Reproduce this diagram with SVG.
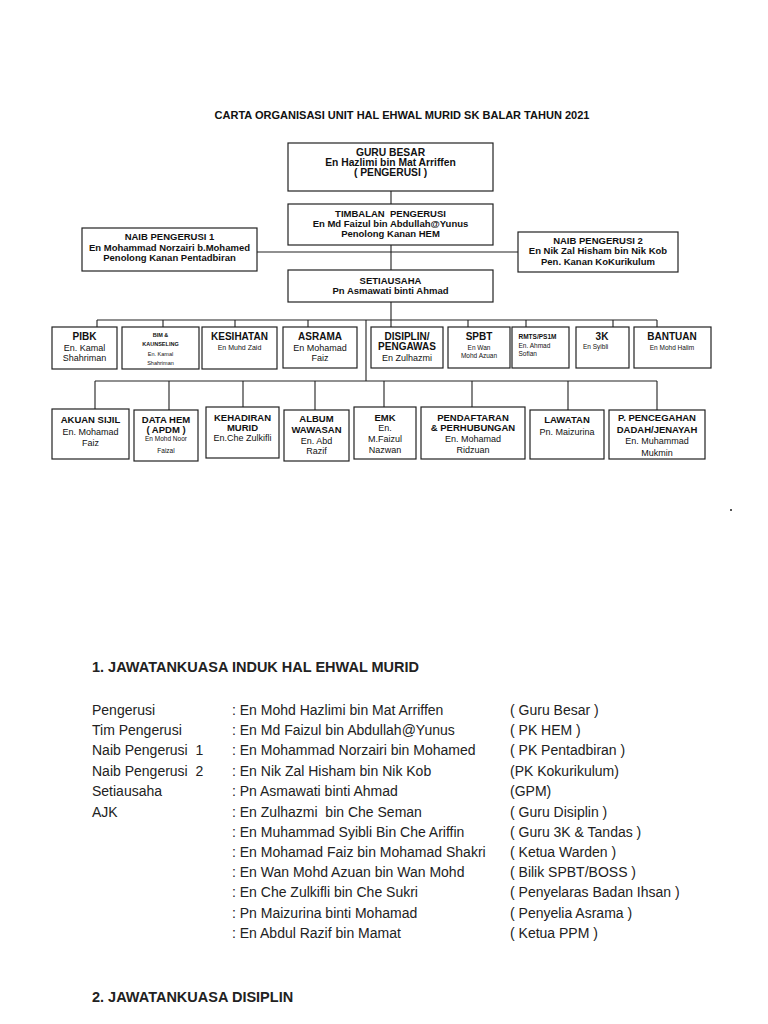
<svg xmlns="http://www.w3.org/2000/svg" width="768" height="1024" viewBox="0 0 768 1024">
<style>
text{font-family:"Liberation Sans",Arial,sans-serif;fill:#111}
.b{font-weight:bold}
.c{text-anchor:middle}
.box{fill:#fff;stroke:#222;stroke-width:1.2}
.ln{stroke:#222;stroke-width:1.1;fill:none}
.t{font-size:10px}
.h{font-size:9.5px;font-weight:bold}
.n{font-size:9px}
.s{font-size:6.5px}
.xs{font-size:5.5px}
.list{font-size:14px;fill:#222}
.pre{white-space:pre}
</style>
<rect width="768" height="1024" fill="#fff"/>
<text class="b c" x="402" y="118.5" style="font-size:10.8px" textLength="375" lengthAdjust="spacingAndGlyphs">CARTA ORGANISASI UNIT HAL EHWAL MURID SK BALAR TAHUN 2021</text>

<g id="connectors">
<path class="ln" d="M391 191V204M391 245V270M257 252H518M391 302V320M97 320H657M97 320V327M163 320V327M235 320V327M308 320V327M391 320V327M468 320V327M526 320V327M613 320V327M657 320V327M366 320V381M95 381H657M95 381V409M169 381V410M243 381V407M315 381V410M384 381V407M472 381V407M568 381V410M657 381V410"/>
</g>

<g id="guru-besar"><rect class="box" x="288" y="143" width="205" height="48"/>
<text class="h c" style="font-size:10.3px" x="390.5" y="155.5">GURU BESAR</text><text class="h c" style="font-size:10.3px" x="390.5" y="165.5">En Hazlimi bin Mat Arriffen</text><text class="h c" style="font-size:10.3px" x="390.5" y="175.5">( PENGERUSI )</text></g>

<g id="timbalan"><rect class="box" x="288" y="204" width="205" height="41"/>
<text class="h c pre" x="390.5" y="216.5">TIMBALAN  PENGERUSI</text><text class="h c" x="390.5" y="226.5">En Md Faizul bin Abdullah@Yunus</text><text class="h c" x="390.5" y="236.5">Penolong Kanan HEM</text></g>

<g id="naib1"><rect class="box" x="82" y="228" width="175" height="43"/>
<text class="h c" x="169.5" y="240">NAIB PENGERUSI 1</text><text class="h c" x="169.5" y="250.5">En Mohammad Norzairi b.Mohamed</text><text class="h c" x="169.5" y="261">Penolong Kanan Pentadbiran</text></g>

<g id="naib2"><rect class="box" x="518" y="232" width="160" height="40"/>
<text class="h c" x="598" y="243.5">NAIB PENGERUSI 2</text><text class="h c" x="598" y="254">En Nik Zal Hisham bin Nik Kob</text><text class="h c" x="598" y="264.5">Pen. Kanan KoKurikulum</text></g>

<g id="setiausaha"><rect class="box" x="288" y="270" width="205" height="32"/>
<text class="h c" x="390.5" y="283.5">SETIAUSAHA</text><text class="h c" x="390.5" y="293.5">Pn Asmawati binti Ahmad</text></g>

<g id="pibk"><rect class="box" x="52" y="327" width="65" height="42"/>
<text class="t b c" x="84.5" y="340">PIBK</text><text class="n c" x="84.5" y="350.5">En. Kamal</text><text class="n c" x="84.5" y="361">Shahriman</text></g>
<g id="bim"><rect class="box" x="122" y="327" width="77" height="42"/>
<text class="xs b c" x="160.5" y="337">BIM &amp;</text><text class="xs b c" x="160.5" y="346">KAUNSELING</text><text class="xs c" x="160.5" y="355.5">En. Kamal</text><text class="xs c" x="160.5" y="364.5">Shahriman</text></g>
<g id="kesihatan"><rect class="box" x="202" y="327" width="75" height="42"/>
<text class="t b c" x="239.5" y="340">KESIHATAN</text><text class="c" style="font-size:7px" x="239.5" y="350">En Muhd Zaid</text></g>
<g id="asrama"><rect class="box" x="283" y="327" width="74" height="41"/>
<text class="t b c" x="320" y="340">ASRAMA</text><text class="n c" x="320" y="351">En Mohamad</text><text class="n c" x="320" y="361">Faiz</text></g>
<g id="disiplin"><rect class="box" x="371" y="327" width="72" height="41"/>
<text class="t b c" x="407" y="340">DISIPLIN/</text><text class="t b c" x="407" y="350">PENGAWAS</text><text class="n c" x="407" y="360.5">En Zulhazmi</text></g>
<g id="spbt"><rect class="box" x="448" y="327" width="62" height="41"/>
<text class="t b c" x="479" y="340">SPBT</text><text class="s c" x="479" y="349.5">En Wan</text><text class="s c" x="479" y="357.5">Mohd Azuan</text></g>
<g id="rmts"><rect class="box" x="512" y="327" width="57" height="41"/>
<text class="s b" x="518.5" y="338.5">RMTS/PS1M</text><text class="s" x="518.5" y="347.5">En. Ahmad</text><text class="s" x="518.5" y="355.5">Sofian</text></g>
<g id="tigak"><rect class="box" x="576" y="327" width="53" height="41"/>
<text class="t b c" x="602" y="340">3K</text><text class="s" x="583" y="349">En Syibli</text></g>
<g id="bantuan"><rect class="box" x="634" y="327" width="77" height="41"/>
<text class="t b c" x="672" y="340">BANTUAN</text><text class="s c" x="672" y="349.5">En Mohd Halim</text></g>

<g id="akuan"><rect class="box" x="52" y="409" width="77" height="50"/>
<text class="h c" x="90.5" y="422.5">AKUAN SIJIL</text><text class="n c" x="90.5" y="434.5">En. Mohamad</text><text class="n c" x="90.5" y="445.5">Faiz</text></g>
<g id="datahem"><rect class="box" x="134" y="410" width="64" height="51"/>
<text class="h c" x="166" y="422.5">DATA HEM</text><text class="h c" x="166" y="432.5">( APDM )</text><text class="s c" x="166" y="440.5">En Mohd Noor</text><text class="s c" x="166" y="452.5">Faizal</text></g>
<g id="kehadiran"><rect class="box" x="206" y="407" width="73" height="51"/>
<text class="h c" x="242.5" y="420.5">KEHADIRAN</text><text class="h c" x="242.5" y="430.5">MURID</text><text class="n c" x="242.5" y="440.5">En.Che Zulkifli</text></g>
<g id="album"><rect class="box" x="284" y="410" width="65" height="51"/>
<text class="h c" x="316.5" y="421.5">ALBUM</text><text class="h c" x="316.5" y="432.5">WAWASAN</text><text class="n c" x="316.5" y="444">En. Abd</text><text class="n c" x="316.5" y="453.5">Razif</text></g>
<g id="emk"><rect class="box" x="354" y="407" width="62" height="52"/>
<text class="h c" x="385" y="420.5">EMK</text><text class="n c" x="385" y="430.5">En.</text><text class="n c" x="385" y="441.5">M.Faizul</text><text class="n c" x="385" y="452.5">Nazwan</text></g>
<g id="pendaftaran"><rect class="box" x="421" y="407" width="104" height="52"/>
<text class="h c" x="473" y="420.5">PENDAFTARAN</text><text class="h c" x="473" y="430.5">&amp; PERHUBUNGAN</text><text class="n c" x="473" y="441.5">En. Mohamad</text><text class="n c" x="473" y="452.5">Ridzuan</text></g>
<g id="lawatan"><rect class="box" x="530" y="410" width="74" height="49"/>
<text class="h c" x="567" y="422.5">LAWATAN</text><text class="n c" x="567" y="434.5">Pn. Maizurina</text></g>
<g id="pencegahan"><rect class="box" x="609" y="410" width="96" height="49"/>
<text class="h c" x="657" y="420.5">P. PENCEGAHAN</text><text class="h c" x="657" y="432.5">DADAH/JENAYAH</text><text class="n c" x="657" y="443.5">En. Muhammad</text><text class="n c" x="657" y="455.5">Mukmin</text></g>

<rect x="730" y="509" width="2" height="2" fill="#555"/>

<text class="b" x="92" y="672" style="font-size:14.5px;fill:#222">1. JAWATANKUASA INDUK HAL EHWAL MURID</text>
<g class="list">
<text class="list pre" x="92" y="715">Pengerusi</text><text class="list" x="232" y="715">: En Mohd Hazlimi bin Mat Arriffen</text><text class="list" x="510" y="715">( Guru Besar )</text>
<text class="list pre" x="92" y="735">Tim Pengerusi</text><text class="list" x="232" y="735">: En Md Faizul bin Abdullah@Yunus</text><text class="list" x="510" y="735">( PK HEM )</text>
<text class="list pre" x="92" y="755">Naib Pengerusi  1</text><text class="list" x="232" y="755">: En Mohammad Norzairi bin Mohamed</text><text class="list" x="510" y="755">( PK Pentadbiran )</text>
<text class="list pre" x="92" y="776">Naib Pengerusi  2</text><text class="list" x="232" y="776">: En Nik Zal Hisham bin Nik Kob</text><text class="list" x="510" y="776">(PK Kokurikulum)</text>
<text class="list" x="92" y="796">Setiausaha</text><text class="list" x="232" y="796">: Pn Asmawati binti Ahmad</text><text class="list" x="510" y="796">(GPM)</text>
<text class="list" x="92" y="817">AJK</text><text class="list pre" x="232" y="817">: En Zulhazmi  bin Che Seman</text><text class="list" x="510" y="817">( Guru Disiplin )</text>
<text class="list" x="232" y="837">: En Muhammad Syibli Bin Che Ariffin</text><text class="list" x="510" y="837">( Guru 3K &amp; Tandas )</text>
<text class="list" x="232" y="857">: En Mohamad Faiz bin Mohamad Shakri</text><text class="list" x="510" y="857">( Ketua Warden )</text>
<text class="list" x="232" y="877">: En Wan Mohd Azuan bin Wan Mohd</text><text class="list" x="510" y="877">( Bilik SPBT/BOSS )</text>
<text class="list" x="232" y="897">: En Che Zulkifli bin Che Sukri</text><text class="list" x="510" y="897">( Penyelaras Badan Ihsan )</text>
<text class="list" x="232" y="918">: Pn Maizurina binti Mohamad</text><text class="list" x="510" y="918">( Penyelia Asrama )</text>
<text class="list" x="232" y="938">: En Abdul Razif bin Mamat</text><text class="list" x="510" y="938">( Ketua PPM )</text>
</g>
<text class="b" x="92" y="1002" style="font-size:14.5px;fill:#222">2. JAWATANKUASA DISIPLIN</text>
</svg>
